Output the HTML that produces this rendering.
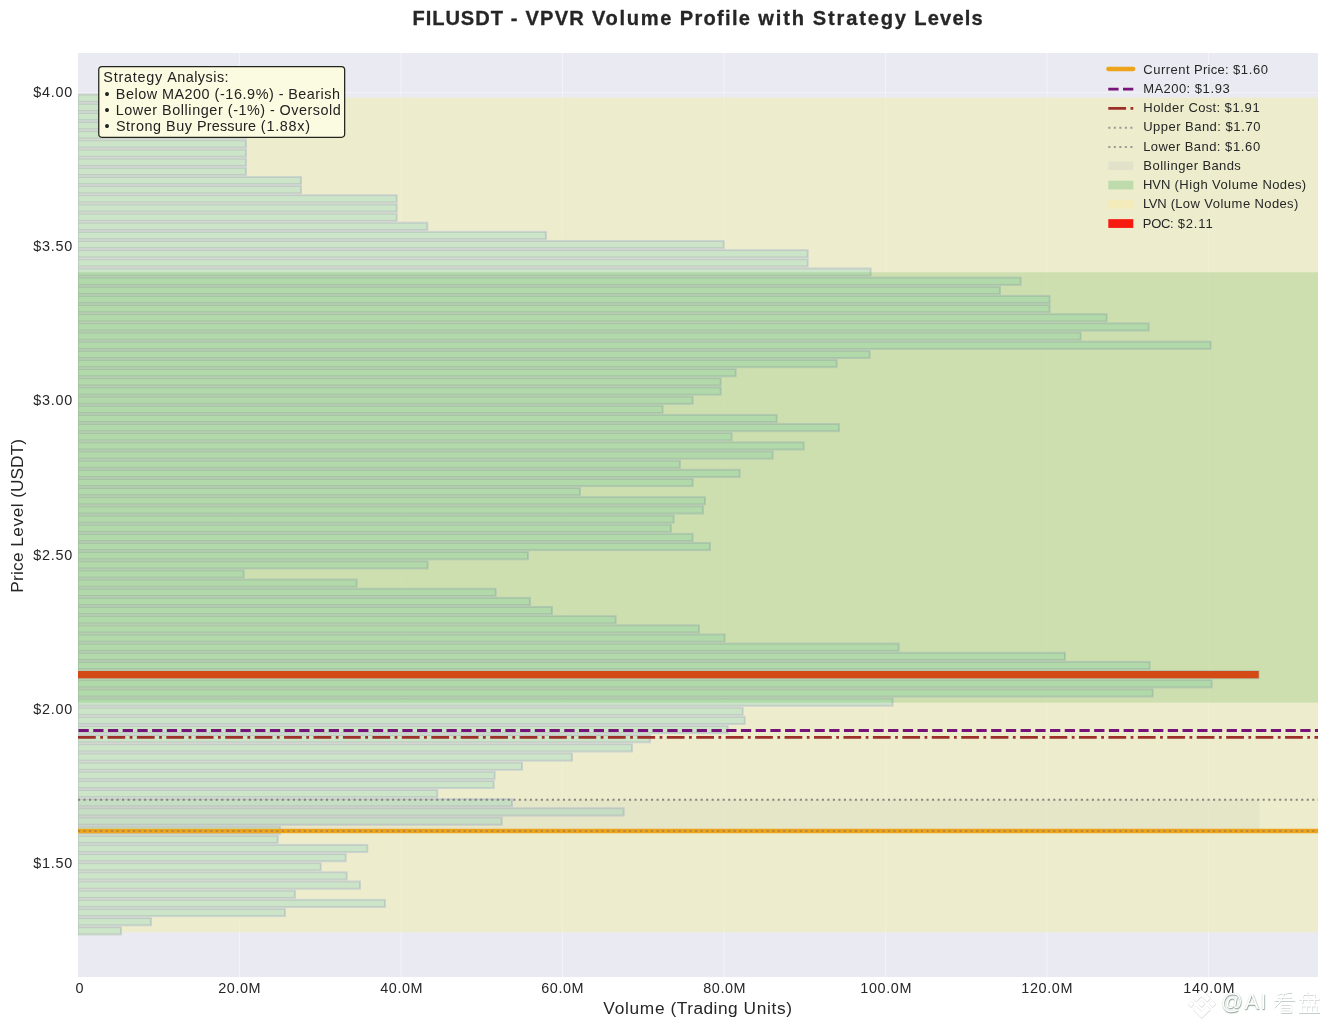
<!DOCTYPE html><html><head><meta charset="utf-8"><title>FILUSDT - VPVR Volume Profile</title><style>
html,body{margin:0;padding:0;background:#fff}
body{width:1328px;height:1029px;position:relative;overflow:hidden;font-family:"Liberation Sans",sans-serif;color:#262626}
.t{position:absolute;white-space:pre;line-height:1;width:0;height:0;will-change:transform}
.t span{position:absolute;top:0;white-space:pre}
</style></head><body>
<svg width="1328" height="1029" viewBox="0 0 1328 1029" style="position:absolute;left:0;top:0">
<defs><clipPath id="ax"><rect x="78.0" y="53.0" width="1240.0" height="924.0"/></clipPath></defs>
<rect x="78.0" y="53.0" width="1240.0" height="924.0" fill="#eaeaf2"/>
<g clip-path="url(#ax)">
<g stroke="#ffffff" stroke-opacity="0.4" stroke-width="1" fill="none">
<line x1="239.5" y1="53.0" x2="239.5" y2="977.0"/>
<line x1="401.0" y1="53.0" x2="401.0" y2="977.0"/>
<line x1="562.5" y1="53.0" x2="562.5" y2="977.0"/>
<line x1="724.0" y1="53.0" x2="724.0" y2="977.0"/>
<line x1="885.5" y1="53.0" x2="885.5" y2="977.0"/>
<line x1="1047.0" y1="53.0" x2="1047.0" y2="977.0"/>
<line x1="1208.5" y1="53.0" x2="1208.5" y2="977.0"/>
<line x1="78.0" y1="92.7" x2="1318.0" y2="92.7"/>
<line x1="78.0" y1="247.0" x2="1318.0" y2="247.0"/>
<line x1="78.0" y1="401.3" x2="1318.0" y2="401.3"/>
<line x1="78.0" y1="555.6" x2="1318.0" y2="555.6"/>
<line x1="78.0" y1="709.9" x2="1318.0" y2="709.9"/>
<line x1="78.0" y1="864.2" x2="1318.0" y2="864.2"/>
</g>
<rect x="78.0" y="97.5" width="1240.0" height="834.8" fill="rgb(237,237,206)"/>
<g stroke="#ffffff" stroke-opacity="0.12" stroke-width="1" fill="none">
<line x1="239.5" y1="97.5" x2="239.5" y2="932.3"/>
<line x1="401.0" y1="97.5" x2="401.0" y2="932.3"/>
<line x1="562.5" y1="97.5" x2="562.5" y2="932.3"/>
<line x1="724.0" y1="97.5" x2="724.0" y2="932.3"/>
<line x1="885.5" y1="97.5" x2="885.5" y2="932.3"/>
<line x1="1047.0" y1="97.5" x2="1047.0" y2="932.3"/>
<line x1="1208.5" y1="97.5" x2="1208.5" y2="932.3"/>
</g>
<g fill="rgb(206,212,207)"><rect x="76.0" y="93.58" width="171.0" height="9.24"/><rect x="76.0" y="102.73" width="171.0" height="9.24"/><rect x="76.0" y="111.88" width="171.0" height="9.24"/><rect x="76.0" y="121.03" width="171.0" height="9.24"/><rect x="76.0" y="130.18" width="171.0" height="9.24"/><rect x="76.0" y="139.33" width="171.0" height="9.24"/><rect x="76.0" y="148.48" width="171.0" height="9.24"/><rect x="76.0" y="157.63" width="171.0" height="9.24"/><rect x="76.0" y="166.78" width="171.0" height="9.24"/><rect x="76.0" y="175.93" width="226.0" height="9.24"/><rect x="76.0" y="185.08" width="226.0" height="9.24"/><rect x="76.0" y="194.23" width="321.7" height="9.24"/><rect x="76.0" y="203.38" width="321.7" height="9.24"/><rect x="76.0" y="212.53" width="321.7" height="9.24"/><rect x="76.0" y="221.68" width="352.3" height="9.24"/><rect x="76.0" y="230.83" width="471.0" height="9.24"/><rect x="76.0" y="239.98" width="648.7" height="9.24"/><rect x="76.0" y="249.13" width="732.7" height="9.24"/><rect x="76.0" y="258.28" width="732.7" height="9.24"/><rect x="76.0" y="267.43" width="795.7" height="9.24"/><rect x="76.0" y="276.58" width="945.7" height="9.24"/><rect x="76.0" y="285.73" width="925.0" height="9.24"/><rect x="76.0" y="294.88" width="974.7" height="9.24"/><rect x="76.0" y="304.03" width="974.7" height="9.24"/><rect x="76.0" y="313.18" width="1031.7" height="9.24"/><rect x="76.0" y="322.33" width="1073.7" height="9.24"/><rect x="76.0" y="331.48" width="1005.7" height="9.24"/><rect x="76.0" y="340.63" width="1135.7" height="9.24"/><rect x="76.0" y="349.78" width="794.7" height="9.24"/><rect x="76.0" y="358.93" width="761.7" height="9.24"/><rect x="76.0" y="368.08" width="660.7" height="9.24"/><rect x="76.0" y="377.23" width="645.7" height="9.24"/><rect x="76.0" y="386.38" width="645.7" height="9.24"/><rect x="76.0" y="395.53" width="617.7" height="9.24"/><rect x="76.0" y="404.68" width="587.7" height="9.24"/><rect x="76.0" y="413.83" width="701.7" height="9.24"/><rect x="76.0" y="422.98" width="764.0" height="9.24"/><rect x="76.0" y="432.13" width="656.7" height="9.24"/><rect x="76.0" y="441.28" width="728.7" height="9.24"/><rect x="76.0" y="450.43" width="697.7" height="9.24"/><rect x="76.0" y="459.58" width="605.0" height="9.24"/><rect x="76.0" y="468.73" width="664.7" height="9.24"/><rect x="76.0" y="477.88" width="617.7" height="9.24"/><rect x="76.0" y="487.03" width="505.0" height="9.24"/><rect x="76.0" y="496.18" width="630.0" height="9.24"/><rect x="76.0" y="505.33" width="628.0" height="9.24"/><rect x="76.0" y="514.48" width="598.7" height="9.24"/><rect x="76.0" y="523.63" width="596.0" height="9.24"/><rect x="76.0" y="532.78" width="617.7" height="9.24"/><rect x="76.0" y="541.93" width="635.0" height="9.24"/><rect x="76.0" y="551.08" width="453.0" height="9.24"/><rect x="76.0" y="560.23" width="352.7" height="9.24"/><rect x="76.0" y="569.38" width="168.7" height="9.24"/><rect x="76.0" y="578.53" width="281.7" height="9.24"/><rect x="76.0" y="587.68" width="420.7" height="9.24"/><rect x="76.0" y="596.83" width="455.0" height="9.24"/><rect x="76.0" y="605.98" width="477.0" height="9.24"/><rect x="76.0" y="615.13" width="540.7" height="9.24"/><rect x="76.0" y="624.28" width="624.0" height="9.24"/><rect x="76.0" y="633.43" width="649.7" height="9.24"/><rect x="76.0" y="642.58" width="823.7" height="9.24"/><rect x="76.0" y="651.73" width="990.0" height="9.24"/><rect x="76.0" y="660.88" width="1074.7" height="9.24"/><rect x="76.0" y="670.03" width="1183.7" height="9.24"/><rect x="76.0" y="679.18" width="1136.7" height="9.24"/><rect x="76.0" y="688.33" width="1077.7" height="9.24"/><rect x="76.0" y="697.48" width="817.7" height="9.24"/><rect x="76.0" y="706.63" width="667.7" height="9.24"/><rect x="76.0" y="715.78" width="669.7" height="9.24"/><rect x="76.0" y="724.93" width="652.7" height="9.24"/><rect x="76.0" y="734.08" width="575.0" height="9.24"/><rect x="76.0" y="743.23" width="557.0" height="9.24"/><rect x="76.0" y="752.38" width="497.0" height="9.24"/><rect x="76.0" y="761.53" width="447.0" height="9.24"/><rect x="76.0" y="770.68" width="419.7" height="9.24"/><rect x="76.0" y="779.83" width="418.7" height="9.24"/><rect x="76.0" y="788.98" width="362.3" height="9.24"/><rect x="76.0" y="798.13" width="437.0" height="9.24"/><rect x="76.0" y="807.28" width="548.7" height="9.24"/><rect x="76.0" y="816.43" width="426.7" height="9.24"/><rect x="76.0" y="825.58" width="205.0" height="9.24"/><rect x="76.0" y="834.73" width="202.7" height="9.24"/><rect x="76.0" y="843.88" width="292.3" height="9.24"/><rect x="76.0" y="853.03" width="270.7" height="9.24"/><rect x="76.0" y="862.18" width="245.7" height="9.24"/><rect x="76.0" y="871.33" width="271.7" height="9.24"/><rect x="76.0" y="880.48" width="285.0" height="9.24"/><rect x="76.0" y="889.63" width="220.0" height="9.24"/><rect x="76.0" y="898.78" width="310.0" height="9.24"/><rect x="76.0" y="907.93" width="210.0" height="9.24"/><rect x="76.0" y="917.08" width="76.0" height="9.24"/><rect x="76.0" y="926.23" width="46.0" height="9.24"/></g>
<g fill="rgb(183,200,189)"><rect x="76.0" y="94.80" width="170.1" height="6.80"/><rect x="76.0" y="103.95" width="170.1" height="6.80"/><rect x="76.0" y="113.10" width="170.1" height="6.80"/><rect x="76.0" y="122.25" width="170.1" height="6.80"/><rect x="76.0" y="131.40" width="170.1" height="6.80"/><rect x="76.0" y="140.55" width="170.1" height="6.80"/><rect x="76.0" y="149.70" width="170.1" height="6.80"/><rect x="76.0" y="158.85" width="170.1" height="6.80"/><rect x="76.0" y="168.00" width="170.1" height="6.80"/><rect x="76.0" y="177.15" width="225.1" height="6.80"/><rect x="76.0" y="186.30" width="225.1" height="6.80"/><rect x="76.0" y="195.45" width="320.8" height="6.80"/><rect x="76.0" y="204.60" width="320.8" height="6.80"/><rect x="76.0" y="213.75" width="320.8" height="6.80"/><rect x="76.0" y="222.90" width="351.4" height="6.80"/><rect x="76.0" y="232.05" width="470.1" height="6.80"/><rect x="76.0" y="241.20" width="647.8" height="6.80"/><rect x="76.0" y="250.35" width="731.8" height="6.80"/><rect x="76.0" y="259.50" width="731.8" height="6.80"/><rect x="76.0" y="268.65" width="794.8" height="6.80"/><rect x="76.0" y="277.80" width="944.8" height="6.80"/><rect x="76.0" y="286.95" width="924.1" height="6.80"/><rect x="76.0" y="296.10" width="973.8" height="6.80"/><rect x="76.0" y="305.25" width="973.8" height="6.80"/><rect x="76.0" y="314.40" width="1030.8" height="6.80"/><rect x="76.0" y="323.55" width="1072.8" height="6.80"/><rect x="76.0" y="332.70" width="1004.8" height="6.80"/><rect x="76.0" y="341.85" width="1134.8" height="6.80"/><rect x="76.0" y="351.00" width="793.8" height="6.80"/><rect x="76.0" y="360.15" width="760.8" height="6.80"/><rect x="76.0" y="369.30" width="659.8" height="6.80"/><rect x="76.0" y="378.45" width="644.8" height="6.80"/><rect x="76.0" y="387.60" width="644.8" height="6.80"/><rect x="76.0" y="396.75" width="616.8" height="6.80"/><rect x="76.0" y="405.90" width="586.8" height="6.80"/><rect x="76.0" y="415.05" width="700.8" height="6.80"/><rect x="76.0" y="424.20" width="763.1" height="6.80"/><rect x="76.0" y="433.35" width="655.8" height="6.80"/><rect x="76.0" y="442.50" width="727.8" height="6.80"/><rect x="76.0" y="451.65" width="696.8" height="6.80"/><rect x="76.0" y="460.80" width="604.1" height="6.80"/><rect x="76.0" y="469.95" width="663.8" height="6.80"/><rect x="76.0" y="479.10" width="616.8" height="6.80"/><rect x="76.0" y="488.25" width="504.1" height="6.80"/><rect x="76.0" y="497.40" width="629.1" height="6.80"/><rect x="76.0" y="506.55" width="627.1" height="6.80"/><rect x="76.0" y="515.70" width="597.8" height="6.80"/><rect x="76.0" y="524.85" width="595.1" height="6.80"/><rect x="76.0" y="534.00" width="616.8" height="6.80"/><rect x="76.0" y="543.15" width="634.1" height="6.80"/><rect x="76.0" y="552.30" width="452.1" height="6.80"/><rect x="76.0" y="561.45" width="351.8" height="6.80"/><rect x="76.0" y="570.60" width="167.8" height="6.80"/><rect x="76.0" y="579.75" width="280.8" height="6.80"/><rect x="76.0" y="588.90" width="419.8" height="6.80"/><rect x="76.0" y="598.05" width="454.1" height="6.80"/><rect x="76.0" y="607.20" width="476.1" height="6.80"/><rect x="76.0" y="616.35" width="539.8" height="6.80"/><rect x="76.0" y="625.50" width="623.1" height="6.80"/><rect x="76.0" y="634.65" width="648.8" height="6.80"/><rect x="76.0" y="643.80" width="822.8" height="6.80"/><rect x="76.0" y="652.95" width="989.1" height="6.80"/><rect x="76.0" y="662.10" width="1073.8" height="6.80"/><rect x="76.0" y="671.25" width="1182.8" height="6.80"/><rect x="76.0" y="680.40" width="1135.8" height="6.80"/><rect x="76.0" y="689.55" width="1076.8" height="6.80"/><rect x="76.0" y="698.70" width="816.8" height="6.80"/><rect x="76.0" y="707.85" width="666.8" height="6.80"/><rect x="76.0" y="717.00" width="668.8" height="6.80"/><rect x="76.0" y="726.15" width="651.8" height="6.80"/><rect x="76.0" y="735.30" width="574.1" height="6.80"/><rect x="76.0" y="744.45" width="556.1" height="6.80"/><rect x="76.0" y="753.60" width="496.1" height="6.80"/><rect x="76.0" y="762.75" width="446.1" height="6.80"/><rect x="76.0" y="771.90" width="418.8" height="6.80"/><rect x="76.0" y="781.05" width="417.8" height="6.80"/><rect x="76.0" y="790.20" width="361.4" height="6.80"/><rect x="76.0" y="799.35" width="436.1" height="6.80"/><rect x="76.0" y="808.50" width="547.8" height="6.80"/><rect x="76.0" y="817.65" width="425.8" height="6.80"/><rect x="76.0" y="826.80" width="204.1" height="6.80"/><rect x="76.0" y="835.95" width="201.8" height="6.80"/><rect x="76.0" y="845.10" width="291.4" height="6.80"/><rect x="76.0" y="854.25" width="269.8" height="6.80"/><rect x="76.0" y="863.40" width="244.8" height="6.80"/><rect x="76.0" y="872.55" width="270.8" height="6.80"/><rect x="76.0" y="881.70" width="284.1" height="6.80"/><rect x="76.0" y="890.85" width="219.1" height="6.80"/><rect x="76.0" y="900.00" width="309.1" height="6.80"/><rect x="76.0" y="909.15" width="209.1" height="6.80"/><rect x="76.0" y="918.30" width="75.1" height="6.80"/><rect x="76.0" y="927.45" width="45.1" height="6.80"/></g>
<g fill="rgb(204,229,200)"><rect x="76.0" y="95.48" width="169.1" height="5.44"/><rect x="76.0" y="104.63" width="169.1" height="5.44"/><rect x="76.0" y="113.78" width="169.1" height="5.44"/><rect x="76.0" y="122.93" width="169.1" height="5.44"/><rect x="76.0" y="132.08" width="169.1" height="5.44"/><rect x="76.0" y="141.23" width="169.1" height="5.44"/><rect x="76.0" y="150.38" width="169.1" height="5.44"/><rect x="76.0" y="159.53" width="169.1" height="5.44"/><rect x="76.0" y="168.68" width="169.1" height="5.44"/><rect x="76.0" y="177.83" width="224.1" height="5.44"/><rect x="76.0" y="186.98" width="224.1" height="5.44"/><rect x="76.0" y="196.13" width="319.8" height="5.44"/><rect x="76.0" y="205.28" width="319.8" height="5.44"/><rect x="76.0" y="214.43" width="319.8" height="5.44"/><rect x="76.0" y="223.58" width="350.4" height="5.44"/><rect x="76.0" y="232.73" width="469.1" height="5.44"/><rect x="76.0" y="241.88" width="646.8" height="5.44"/><rect x="76.0" y="251.03" width="730.8" height="5.44"/><rect x="76.0" y="260.18" width="730.8" height="5.44"/><rect x="76.0" y="269.33" width="793.8" height="5.44"/><rect x="76.0" y="278.48" width="943.8" height="5.44"/><rect x="76.0" y="287.63" width="923.1" height="5.44"/><rect x="76.0" y="296.78" width="972.8" height="5.44"/><rect x="76.0" y="305.93" width="972.8" height="5.44"/><rect x="76.0" y="315.08" width="1029.8" height="5.44"/><rect x="76.0" y="324.23" width="1071.8" height="5.44"/><rect x="76.0" y="333.38" width="1003.8" height="5.44"/><rect x="76.0" y="342.53" width="1133.8" height="5.44"/><rect x="76.0" y="351.68" width="792.8" height="5.44"/><rect x="76.0" y="360.83" width="759.8" height="5.44"/><rect x="76.0" y="369.98" width="658.8" height="5.44"/><rect x="76.0" y="379.13" width="643.8" height="5.44"/><rect x="76.0" y="388.28" width="643.8" height="5.44"/><rect x="76.0" y="397.43" width="615.8" height="5.44"/><rect x="76.0" y="406.58" width="585.8" height="5.44"/><rect x="76.0" y="415.73" width="699.8" height="5.44"/><rect x="76.0" y="424.88" width="762.1" height="5.44"/><rect x="76.0" y="434.03" width="654.8" height="5.44"/><rect x="76.0" y="443.18" width="726.8" height="5.44"/><rect x="76.0" y="452.33" width="695.8" height="5.44"/><rect x="76.0" y="461.48" width="603.1" height="5.44"/><rect x="76.0" y="470.63" width="662.8" height="5.44"/><rect x="76.0" y="479.78" width="615.8" height="5.44"/><rect x="76.0" y="488.93" width="503.1" height="5.44"/><rect x="76.0" y="498.08" width="628.1" height="5.44"/><rect x="76.0" y="507.23" width="626.1" height="5.44"/><rect x="76.0" y="516.38" width="596.8" height="5.44"/><rect x="76.0" y="525.53" width="594.1" height="5.44"/><rect x="76.0" y="534.68" width="615.8" height="5.44"/><rect x="76.0" y="543.83" width="633.1" height="5.44"/><rect x="76.0" y="552.98" width="451.1" height="5.44"/><rect x="76.0" y="562.13" width="350.8" height="5.44"/><rect x="76.0" y="571.28" width="166.8" height="5.44"/><rect x="76.0" y="580.43" width="279.8" height="5.44"/><rect x="76.0" y="589.58" width="418.8" height="5.44"/><rect x="76.0" y="598.73" width="453.1" height="5.44"/><rect x="76.0" y="607.88" width="475.1" height="5.44"/><rect x="76.0" y="617.03" width="538.8" height="5.44"/><rect x="76.0" y="626.18" width="622.1" height="5.44"/><rect x="76.0" y="635.33" width="647.8" height="5.44"/><rect x="76.0" y="644.48" width="821.8" height="5.44"/><rect x="76.0" y="653.63" width="988.1" height="5.44"/><rect x="76.0" y="662.78" width="1072.8" height="5.44"/><rect x="76.0" y="671.93" width="1181.8" height="5.44"/><rect x="76.0" y="681.08" width="1134.8" height="5.44"/><rect x="76.0" y="690.23" width="1075.8" height="5.44"/><rect x="76.0" y="699.38" width="815.8" height="5.44"/><rect x="76.0" y="708.53" width="665.8" height="5.44"/><rect x="76.0" y="717.68" width="667.8" height="5.44"/><rect x="76.0" y="726.83" width="650.8" height="5.44"/><rect x="76.0" y="735.98" width="573.1" height="5.44"/><rect x="76.0" y="745.13" width="555.1" height="5.44"/><rect x="76.0" y="754.28" width="495.1" height="5.44"/><rect x="76.0" y="763.43" width="445.1" height="5.44"/><rect x="76.0" y="772.58" width="417.8" height="5.44"/><rect x="76.0" y="781.73" width="416.8" height="5.44"/><rect x="76.0" y="790.88" width="360.4" height="5.44"/><rect x="76.0" y="800.03" width="435.1" height="5.44"/><rect x="76.0" y="809.18" width="546.8" height="5.44"/><rect x="76.0" y="818.33" width="424.8" height="5.44"/><rect x="76.0" y="827.48" width="203.1" height="5.44"/><rect x="76.0" y="836.63" width="200.8" height="5.44"/><rect x="76.0" y="845.78" width="290.4" height="5.44"/><rect x="76.0" y="854.93" width="268.8" height="5.44"/><rect x="76.0" y="864.08" width="243.8" height="5.44"/><rect x="76.0" y="873.23" width="269.8" height="5.44"/><rect x="76.0" y="882.38" width="283.1" height="5.44"/><rect x="76.0" y="891.53" width="218.1" height="5.44"/><rect x="76.0" y="900.68" width="308.1" height="5.44"/><rect x="76.0" y="909.83" width="208.1" height="5.44"/><rect x="76.0" y="918.98" width="74.1" height="5.44"/><rect x="76.0" y="928.13" width="44.1" height="5.44"/></g>
<rect x="78.0" y="94.6" width="0.7" height="840.4" fill="rgb(183,200,189)"/>
<rect x="78.0" y="670.99" width="1180.7" height="7.32" fill="rgb(245,62,28)"/>
<rect x="78.0" y="272.3" width="1240.0" height="430.3" fill="rgb(30,145,0)" fill-opacity="0.15"/>
<rect x="78.0" y="799.7" width="1181.5" height="31.299999999999955" fill="rgb(128,128,128)" fill-opacity="0.075"/>
<line x1="78.0" y1="799.7" x2="1318.0" y2="799.7" stroke="rgb(125,122,115)" stroke-opacity="0.9" stroke-width="2.08" stroke-dasharray="2.08 3.43"/>
<line x1="78.0" y1="831.0" x2="1318.0" y2="831.0" stroke="rgb(238,164,26)" stroke-width="4.3"/>
<line x1="78.0" y1="831.0" x2="1318.0" y2="831.0" stroke="rgb(128,110,90)" stroke-opacity="0.5" stroke-width="2.08" stroke-dasharray="2.08 3.43"/>
<line x1="78.0" y1="730.4" x2="1318.0" y2="730.4" stroke="rgb(118,18,120)" stroke-width="3.0" stroke-dasharray="10.28 4.44" stroke-dashoffset="-0.5"/>
<line x1="78.0" y1="737.3" x2="1318.0" y2="737.3" stroke="rgb(156,47,40)" stroke-width="2.78" stroke-dasharray="17.78 4.44 2.78 4.44"/>
</g>
<line x1="1108.3" y1="69.0" x2="1133.3" y2="69.0" stroke="rgb(238,164,26)" stroke-width="4.3" stroke-linecap="round"/>
<line x1="1108.3" y1="89.23" x2="1133.3" y2="89.23" stroke="rgb(118,18,120)" stroke-width="2.78" stroke-dasharray="10.28 4.44"/>
<line x1="1108.3" y1="108.46" x2="1133.3" y2="108.46" stroke="rgb(156,47,40)" stroke-width="2.78" stroke-dasharray="17.78 4.44 2.78 4.44"/>
<line x1="1108.3" y1="127.69000000000001" x2="1133.3" y2="127.69000000000001" stroke="rgb(128,128,128)" stroke-opacity="0.75" stroke-width="2.08" stroke-dasharray="2.08 3.43"/>
<line x1="1108.3" y1="146.92" x2="1133.3" y2="146.92" stroke="rgb(128,128,128)" stroke-opacity="0.75" stroke-width="2.08" stroke-dasharray="2.08 3.43"/>
<rect x="1108.3" y="161.47" width="25.0" height="8.75" fill="rgb(226,226,203)"/>
<rect x="1108.3" y="180.71" width="25.0" height="8.75" fill="rgb(190,219,171)"/>
<rect x="1108.3" y="199.94" width="25.0" height="8.75" fill="rgb(243,235,186)"/>
<rect x="1108.3" y="219.16" width="25.0" height="8.75" fill="rgb(247,26,16)"/>
<rect x="98.75" y="66.6" width="245.9" height="70.7" rx="3.2" ry="3.2" fill="rgb(251,251,226)" stroke="rgb(36,36,30)" stroke-width="1.25"/>
</svg>
<div class="t title" style="left:412.32px;top:7.99px;font-size:20.1px;font-weight:bold;-webkit-text-stroke:0.3px #262626;"><span style="left:0.47px;letter-spacing:0.934px">FILUSDT </span><span style="left:98.85px;letter-spacing:0.000px">- </span><span style="left:113.57px;letter-spacing:1.143px">VPVR </span><span style="left:179.92px;letter-spacing:1.696px">Volume </span><span style="left:267.76px;letter-spacing:1.271px">Profile </span><span style="left:346.28px;letter-spacing:1.891px">with </span><span style="left:400.77px;letter-spacing:1.829px">Strategy </span><span style="left:502.28px;letter-spacing:1.181px">Levels</span></div>
<div class="t xl" style="left:603.31px;top:1000.36px;font-size:17.3px;"><span style="left:0.36px;letter-spacing:0.716px">Volume </span><span style="left:67.54px;letter-spacing:0.486px">(Trading </span><span style="left:140.59px;letter-spacing:0.658px">Units)</span></div>
<div style="position:absolute;left:23.6px;top:592.64px;width:0;height:0;transform-origin:0 0;transform:rotate(-90deg)"><div class="t yl" style="left:0.00px;top:-14.64px;font-size:17.3px;"><span style="left:0.13px;letter-spacing:0.250px">Price </span><span style="left:46.23px;letter-spacing:0.529px">Level </span><span style="left:95.28px;letter-spacing:0.032px">(USDT)</span></div></div>
<div class="t yt" style="left:33.44px;top:84.71px;font-size:14.4px;"><span style="left:0.37px;letter-spacing:0.746px">$4.00</span></div>
<div class="t yt" style="left:33.44px;top:239.01px;font-size:14.4px;"><span style="left:0.37px;letter-spacing:0.746px">$3.50</span></div>
<div class="t yt" style="left:33.44px;top:393.31px;font-size:14.4px;"><span style="left:0.37px;letter-spacing:0.746px">$3.00</span></div>
<div class="t yt" style="left:33.44px;top:547.61px;font-size:14.4px;"><span style="left:0.37px;letter-spacing:0.746px">$2.50</span></div>
<div class="t yt" style="left:33.44px;top:701.91px;font-size:14.4px;"><span style="left:0.37px;letter-spacing:0.746px">$2.00</span></div>
<div class="t yt" style="left:33.44px;top:856.21px;font-size:14.4px;"><span style="left:0.37px;letter-spacing:0.746px">$1.50</span></div>
<div class="t xt" style="left:74.98px;top:980.61px;font-size:14.4px;"><span style="left:0.41px;letter-spacing:0.000px">0</span></div>
<div class="t xt" style="left:218.04px;top:980.61px;font-size:14.4px;"><span style="left:0.29px;letter-spacing:0.578px">20.0M</span></div>
<div class="t xt" style="left:379.54px;top:980.61px;font-size:14.4px;"><span style="left:0.29px;letter-spacing:0.578px">40.0M</span></div>
<div class="t xt" style="left:541.04px;top:980.61px;font-size:14.4px;"><span style="left:0.29px;letter-spacing:0.578px">60.0M</span></div>
<div class="t xt" style="left:702.54px;top:980.61px;font-size:14.4px;"><span style="left:0.29px;letter-spacing:0.578px">80.0M</span></div>
<div class="t xt" style="left:859.63px;top:980.61px;font-size:14.4px;"><span style="left:0.31px;letter-spacing:0.620px">100.0M</span></div>
<div class="t xt" style="left:1021.13px;top:980.61px;font-size:14.4px;"><span style="left:0.31px;letter-spacing:0.620px">120.0M</span></div>
<div class="t xt" style="left:1182.63px;top:980.61px;font-size:14.4px;"><span style="left:0.31px;letter-spacing:0.620px">140.0M</span></div>
<div class="t lg" style="left:1143.30px;top:62.80px;font-size:13.0px;"><span style="left:0.26px;letter-spacing:0.514px">Current </span><span style="left:51.05px;letter-spacing:0.246px">Price: </span><span style="left:89.93px;letter-spacing:0.651px">$1.60</span></div>
<div class="t lg" style="left:1143.30px;top:82.03px;font-size:13.0px;"><span style="left:0.22px;letter-spacing:0.434px">MA200: </span><span style="left:51.71px;letter-spacing:0.651px">$1.93</span></div>
<div class="t lg" style="left:1143.30px;top:101.26px;font-size:13.0px;"><span style="left:0.25px;letter-spacing:0.498px">Holder </span><span style="left:45.42px;letter-spacing:0.332px">Cost: </span><span style="left:81.56px;letter-spacing:0.651px">$1.91</span></div>
<div class="t lg" style="left:1143.30px;top:120.49px;font-size:13.0px;"><span style="left:0.24px;letter-spacing:0.488px">Upper </span><span style="left:42.05px;letter-spacing:0.466px">Band: </span><span style="left:82.42px;letter-spacing:0.651px">$1.70</span></div>
<div class="t lg" style="left:1143.30px;top:139.72px;font-size:13.0px;"><span style="left:0.20px;letter-spacing:0.408px">Lower </span><span style="left:41.65px;letter-spacing:0.466px">Band: </span><span style="left:82.02px;letter-spacing:0.651px">$1.60</span></div>
<div class="t lg" style="left:1143.30px;top:158.95px;font-size:13.0px;"><span style="left:0.26px;letter-spacing:0.527px">Bollinger </span><span style="left:59.48px;letter-spacing:0.349px">Bands</span></div>
<div class="t lg" style="left:1143.30px;top:178.18px;font-size:13.0px;"><span style="left:-0.02px;letter-spacing:-0.049px">HVN </span><span style="left:31.53px;letter-spacing:0.508px">(High </span><span style="left:69.11px;letter-spacing:0.522px">Volume </span><span style="left:119.49px;letter-spacing:0.351px">Nodes)</span></div>
<div class="t lg" style="left:1143.30px;top:197.41px;font-size:13.0px;"><span style="left:-0.14px;letter-spacing:-0.277px">LVN </span><span style="left:27.63px;letter-spacing:0.329px">(Low </span><span style="left:61.19px;letter-spacing:0.522px">Volume </span><span style="left:111.57px;letter-spacing:0.351px">Nodes)</span></div>
<div class="t lg" style="left:1143.30px;top:216.64px;font-size:13.0px;"><span style="left:-0.18px;letter-spacing:-0.367px">POC: </span><span style="left:34.71px;letter-spacing:0.844px">$2.11</span></div>
<div class="t an" style="left:103.30px;top:69.81px;font-size:14.4px;color:#222"><span style="left:0.37px;letter-spacing:0.736px">Strategy </span><span style="left:64.17px;letter-spacing:0.476px">Analysis:</span></div>
<div class="t an" style="left:103.30px;top:87.01px;font-size:14.4px;color:#222"><span style="left:1.58px;letter-spacing:0.000px">• </span><span style="left:12.87px;letter-spacing:0.514px">Below </span><span style="left:59.05px;letter-spacing:0.474px">MA200 </span><span style="left:111.53px;letter-spacing:0.595px">(-16.9%) </span><span style="left:175.73px;letter-spacing:0.000px">- </span><span style="left:185.29px;letter-spacing:0.482px">Bearish</span></div>
<div class="t an" style="left:103.30px;top:103.01px;font-size:14.4px;color:#222"><span style="left:1.58px;letter-spacing:0.000px">• </span><span style="left:12.85px;letter-spacing:0.478px">Lower </span><span style="left:58.94px;letter-spacing:0.605px">Bollinger </span><span style="left:124.80px;letter-spacing:0.537px">(-1%) </span><span style="left:166.94px;letter-spacing:0.000px">- </span><span style="left:176.52px;letter-spacing:0.525px">Oversold</span></div>
<div class="t an" style="left:103.30px;top:118.61px;font-size:14.4px;color:#222"><span style="left:1.58px;letter-spacing:0.000px">• </span><span style="left:12.89px;letter-spacing:0.560px">Strong </span><span style="left:63.10px;letter-spacing:0.580px">Buy </span><span style="left:93.88px;letter-spacing:0.211px">Pressure </span><span style="left:157.87px;letter-spacing:0.738px">(1.88x)</span></div>
<svg width="150" height="44" viewBox="1180 985 150 44" style="position:absolute;left:1180px;top:985px">
<defs><filter id="ws" x="-20%" y="-20%" width="140%" height="140%"><feDropShadow dx="0.5" dy="1.0" stdDeviation="0.75" flood-color="rgb(100,130,110)" flood-opacity="0.8"/></filter></defs>
<g transform="translate(1187.7,990.0) scale(0.2222)" fill="#ffffff" filter="url(#ws)"><path d="M38.17 53.2L63 28.37L87.84 53.21L102.29 38.76L63 -0.5L23.72 38.75Z"/><path d="M0 63L14.45 48.55L28.9 63L14.45 77.45Z"/><path d="M38.17 72.8L63 97.63L87.84 72.79L102.3 87.23L63 126.5L23.72 87.25Z"/><path d="M97.1 63L111.55 48.55L126 63L111.55 77.45Z"/><path d="M77.65 63L63 48.34L48.35 63L63 77.65Z"/></g>
<path d="M1291.7 992.3L1277.2 994.2M1277.2 997.2L1291.7 997.2M1274.5 1000.6L1294.7 1000.6M1283.7 994.0L1280.2 1001.5M1280.2 1001.5L1274.5 1007.5M1281.0 1004.4L1291.2 1004.4M1281.0 1007.2L1291.2 1007.2M1281.0 1010.0L1291.2 1010.0M1281.0 1012.6L1291.2 1012.6M1281.0 1004.4L1281.0 1012.6M1291.2 1004.4L1291.2 1012.6" transform="translate(0.4,0.7)" stroke="rgb(110,135,118)" stroke-opacity="0.65" stroke-width="1.0" fill="none"/><path d="M1291.7 992.3L1277.2 994.2M1277.2 997.2L1291.7 997.2M1274.5 1000.6L1294.7 1000.6M1283.7 994.0L1280.2 1001.5M1280.2 1001.5L1274.5 1007.5M1281.0 1004.4L1291.2 1004.4M1281.0 1007.2L1291.2 1007.2M1281.0 1010.0L1291.2 1010.0M1281.0 1012.6L1291.2 1012.6M1281.0 1004.4L1281.0 1012.6M1291.2 1004.4L1291.2 1012.6" stroke="#ffffff" stroke-width="1.5" fill="none"/>
<path d="M1308.3 992.2L1305.3 994.2M1303.3 994.4L1314.8 994.4M1303.3 994.4L1302.3 1003.0M1314.8 994.4L1314.8 1003.5M1298.8 999.2L1319.3 999.2M1307.8 996.0L1309.8 998.0M1307.8 1000.6L1309.8 1002.4M1301.3 1006.0L1316.8 1006.0M1301.3 1006.0L1301.3 1012.6M1316.8 1006.0L1316.8 1012.6M1306.5 1006.0L1306.5 1012.6M1311.7 1006.0L1311.7 1012.6M1298.8 1012.6L1319.6 1012.6" transform="translate(0.4,0.7)" stroke="rgb(110,135,118)" stroke-opacity="0.65" stroke-width="1.0" fill="none"/><path d="M1308.3 992.2L1305.3 994.2M1303.3 994.4L1314.8 994.4M1303.3 994.4L1302.3 1003.0M1314.8 994.4L1314.8 1003.5M1298.8 999.2L1319.3 999.2M1307.8 996.0L1309.8 998.0M1307.8 1000.6L1309.8 1002.4M1301.3 1006.0L1316.8 1006.0M1301.3 1006.0L1301.3 1012.6M1316.8 1006.0L1316.8 1012.6M1306.5 1006.0L1306.5 1012.6M1311.7 1006.0L1311.7 1012.6M1298.8 1012.6L1319.6 1012.6" stroke="#ffffff" stroke-width="1.5" fill="none"/>
</svg>
<div class="t wm" style="left:1220.6px;top:992.2px;font-size:21.5px;color:#fff;letter-spacing:1.6px;text-shadow:0.5px 0.9px 1.2px rgba(100,130,110,0.85),0 0 1px rgba(100,130,110,0.35)"><span style="left:0">@AI</span></div>
</body></html>
